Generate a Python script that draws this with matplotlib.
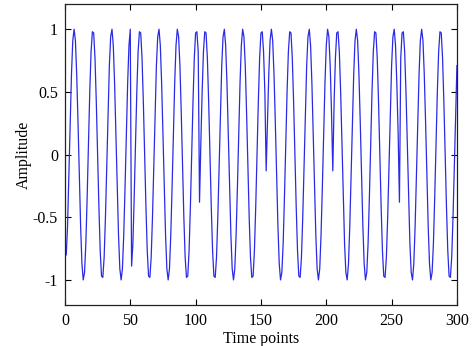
import numpy as np
import matplotlib
matplotlib.use('Agg')
import matplotlib.pyplot as plt

seg1 = [-0.80, -0.57, -0.17, 0.26, 0.64, 0.91, 1.00, 0.91, 0.64, 0.26,
        -0.17, -0.57, -0.87, -1.00, -0.94, -0.71, -0.34, 0.09, 0.50, 0.82,
        0.98, 0.97, 0.77, 0.42, 0.00, -0.42, -0.77, -0.97, -0.98, -0.82,
        -0.50, -0.09, 0.34, 0.71, 0.94, 1.00, 0.87, 0.57, 0.17, -0.26,
        -0.64, -0.91, -1.00, -0.91, -0.64, -0.26, 0.17, 0.57, 0.87, 1.00,
        -0.89]
seg2 = [-0.71, -0.34, 0.09, 0.50, 0.82, 0.98, 0.97, 0.77, 0.42, 0.00,
        -0.42, -0.77, -0.97, -0.98, -0.82, -0.50, -0.09, 0.34, 0.71, 0.94,
        1.00, 0.87, 0.57, 0.17, -0.26, -0.64, -0.91, -1.00, -0.91, -0.64,
        -0.26, 0.17, 0.57, 0.87, 1.00, 0.94, 0.71, 0.34, -0.09, -0.50,
        -0.82, -0.98, -0.97, -0.77, -0.42, 0.00, 0.42, 0.77, 0.97, 0.98,
        0.82]
seg3 = [-0.38,
        0.09, 0.50, 0.82, 0.98, 0.97, 0.77, 0.42, 0.00, -0.42, -0.77,
        -0.97, -0.98, -0.82, -0.50, -0.09, 0.34, 0.71, 0.94, 1.00, 0.87,
        0.57, 0.17, -0.26, -0.64, -0.91, -1.00, -0.91, -0.64, -0.26, 0.17,
        0.57, 0.87, 1.00, 0.94, 0.71, 0.34, -0.09, -0.50, -0.82, -0.98,
        -0.97, -0.77, -0.42, 0.00, 0.42, 0.77, 0.97, 0.98, 0.82, 0.50]
seg4 = [-0.13,
        0.26, 0.64, 0.91, 1.00, 0.91, 0.64, 0.26, -0.17, -0.57, -0.87,
        -1.00, -0.94, -0.71, -0.34, 0.09, 0.50, 0.82, 0.98, 0.97, 0.77,
        0.42, 0.00, -0.42, -0.77, -0.97, -0.98, -0.82, -0.50, -0.09, 0.34,
        0.71, 0.94, 1.00, 0.87, 0.57, 0.17, -0.26, -0.64, -0.91, -1.00,
        -0.91, -0.64, -0.26, 0.17, 0.57, 0.87, 1.00, 0.94, 0.71, 0.34]
seg5 = [-0.13,
        0.42, 0.77, 0.97, 0.98, 0.82, 0.50, 0.09, -0.34, -0.71, -0.94,
        -1.00, -0.87, -0.57, -0.17, 0.26, 0.64, 0.91, 1.00, 0.91, 0.64,
        0.26, -0.17, -0.57, -0.87, -1.00, -0.94, -0.71, -0.34, 0.09, 0.50,
        0.82, 0.98, 0.97, 0.77, 0.42, 0.00, -0.42, -0.77, -0.97, -0.98,
        -0.82, -0.50, -0.09, 0.34, 0.71, 0.94, 1.00, 0.87, 0.57, 0.17]
seg6 = [-0.38,
        0.77, 0.97, 0.98, 0.82, 0.50, 0.09, -0.34, -0.71, -0.94, -1.00,
        -0.87, -0.57, -0.17, 0.26, 0.64, 0.91, 1.00, 0.91, 0.64, 0.26,
        -0.17, -0.57, -0.87, -1.00, -0.94, -0.71, -0.34, 0.09, 0.50, 0.82,
        0.98, 0.97, 0.77, 0.42, 0.00, -0.42, -0.77, -0.97, -0.98, -0.82,
        -0.50, -0.09, 0.34, 0.71]

x_ticks = [0, 50, 100, 150, 200, 250, 300]
y_ticks = [-1, -0.5, 0, 0.5, 1]
y_tick_labels = ['-1', '-0.5', '0', '0.5', '1']

amplitude = np.array(seg1 + seg2 + seg3 + seg4 + seg5 + seg6)
time_points = np.arange(1, len(amplitude) + 1)

plt.rcParams['font.family'] = ['Liberation Serif', 'DejaVu Serif']
plt.rcParams['font.size'] = 11

fig = plt.figure(figsize=(4.74, 3.46), dpi=100)
ax = fig.add_axes([0.137, 0.1185, 0.827, 0.8695])

ax.plot(time_points, amplitude, color='#2a2ae6', lw=0.9)

ax.set_xlim(0, 300)
ax.set_ylim(-1.2, 1.2)
ax.set_xticks(x_ticks)
ax.set_yticks(y_ticks)
ax.set_yticklabels(y_tick_labels)
ax.tick_params(direction='in', length=4, width=0.8, top=True, right=True,
               labelsize=11.5)
ax.tick_params(axis='x', pad=6)
ax.tick_params(axis='y', pad=5)
for s in ax.spines.values():
    s.set_linewidth(0.9)
    s.set_color('#222222')

ax.set_xlabel('Time points', fontsize=11.5, labelpad=1)
ax.set_ylabel('Amplitude', fontsize=11.5, labelpad=1)

fig.savefig('out.png', dpi=100)
